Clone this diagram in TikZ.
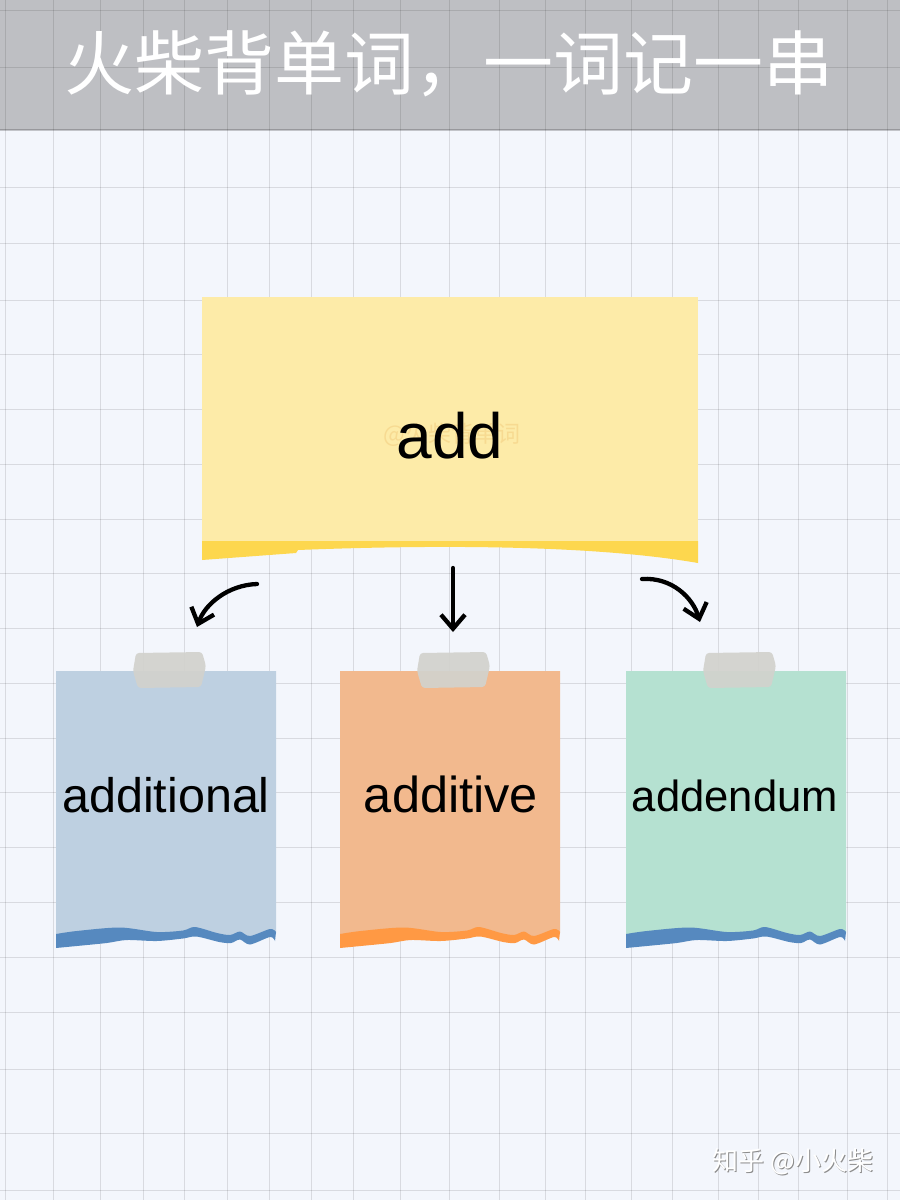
\documentclass[tikz,border=0pt]{standalone}
\usepackage{fontspec}
\setmainfont{Liberation Sans}
\newfontfamily\cjk{Noto Sans CJK SC}
\usetikzlibrary{arrows.meta}
\definecolor{bgcol}{RGB}{243,246,252}
\definecolor{bannercol}{RGB}{190,191,195}
\definecolor{ylight}{RGB}{253,235,168}
\definecolor{ydark}{RGB}{253,215,78}
\definecolor{cafill}{RGB}{190,208,225}
\definecolor{caband}{RGB}{86,137,191}
\definecolor{cbfill}{RGB}{242,185,142}
\definecolor{cbband}{RGB}{255,153,68}
\definecolor{ccfill}{RGB}{181,225,209}
\definecolor{ccband}{RGB}{86,137,191}
\definecolor{tapecol}{RGB}{210,210,205}
\definecolor{wmcol}{RGB}{230,170,80}
\tikzset{
  gridline/.style={black, opacity=0.11, line width=1},
  titletext/.style={text=white, font=\cjk\fontsize{70}{72}\selectfont, inner sep=0},
  cardword/.style={anchor=base, inner sep=0, text=black},
  arrowstyle/.style={line width=4.3, line cap=round, line join=round, -{Straight Barb[length=14pt,width=24pt]}},
  footer/.style={font=\cjk\fontsize{26}{28}\selectfont, inner sep=0},
  pics/card/.style 2 args={code={
    \fill[#1] (0,0) -- (220,0) -- (220,262) -- plot[smooth] coordinates {(214,259) (194,266.7) (184,261.3) (174,265) (161,263) (139,256.7) (127,260) (100.7,262) (64,257.3) (20.7,260.7) (0,264)} -- cycle;
    \fill[#2] plot[smooth] coordinates {(0,263) (20.7,260) (64,256.5) (100.7,261) (127,259.5) (139,256) (161,262) (174,264) (184,260.5) (194,265) (214,258) (220,261)} -- plot[smooth] coordinates {(219,270) (214,266) (194,273.5) (184,268.5) (175,272) (163.3,271) (140.3,265.5) (127,267.5) (100.7,270) (70.7,269) (50.7,272) (20.7,275) (0,277)} -- cycle;
    \fill[tapecol, opacity=0.92, rounded corners=3] (80,-18) -- (146,-19) -- (150,-5) -- (145,16) -- (82,17) -- (77,0) -- cycle;
  }}
}
\begin{document}
\begin{tikzpicture}[x=1pt,y=-1pt]
\useasboundingbox (0,0) rectangle (900,1200);
\fill[bgcol] (0,0) rectangle (900,1200);
\fill[bannercol] (0,0) rectangle (900,130);
% grid
\foreach \x in {5,53,100,143,184,227,269,311,353,400,449,499,545,585,631,672,718,758,798,847,887}
  \draw[gridline] (\x,0) -- (\x,1200);
\foreach \y in {10,67,187,243,1012,1069,1133,1190}
  \draw[gridline] (0,\y) -- (900,\y);
\foreach \k in {0,...,12}{
  \pgfmathsetmacro\yy{300+54.75*\k}
  \draw[gridline] (0,\yy) -- (900,\yy);
}
\draw[black, opacity=0.2, line width=1.5] (0,130) -- (900,130);
% title
\node[titletext] (title) at (449,64) {火柴背单词，一词记一串};
% sticky note
\fill[ylight] (202,297) rectangle (698,545);
\fill[ydark] (202,541) -- (698,541) -- (698,563) .. controls (600,546) and (450,544) .. (298,550) -- (296,553) -- (202,560) -- cycle;
\node[text=wmcol, opacity=0.25, font=\cjk\fontsize{23}{25}\selectfont, inner sep=0] (wm) at (452,435) {@火柴背单词};
\node[cardword, font=\fontsize{64}{66}\selectfont] (add) at (450,458) {add};
% arrows
\coordinate (la) at (257,584);
\coordinate (lb) at (197,627);
\coordinate (ma) at (453,568);
\coordinate (mb) at (453,632);
\coordinate (ra) at (642,579);
\coordinate (rb) at (700,622);
\draw[arrowstyle] (la) .. controls (228,585) and (205,604) .. (lb);
\draw[arrowstyle] (ma) -- (mb);
\draw[arrowstyle] (ra) .. controls (672,577) and (693,598) .. (rb);
% cards
\pic (cardA) at (56,671) {card={cafill}{caband}};
\pic (cardB) at (340,671) {card={cbfill}{cbband}};
\pic (cardC) at (626,671) {card={ccfill}{ccband}};
\node[cardword, font=\fontsize{48.5}{50}\selectfont] (w1) at (166,812) {additional};
\node[cardword, font=\fontsize{50.5}{52}\selectfont] (w2) at (451,812) {additive};
\node[cardword, font=\fontsize{43.6}{45}\selectfont] (w3) at (735,811) {addendum};
% footer
\node[footer, text=black!45] (zhs) at (794,1163) {知乎 @小火柴};
\node[footer, text=white] (zh) at (793,1162) {知乎 @小火柴};
\end{tikzpicture}
\end{document}
